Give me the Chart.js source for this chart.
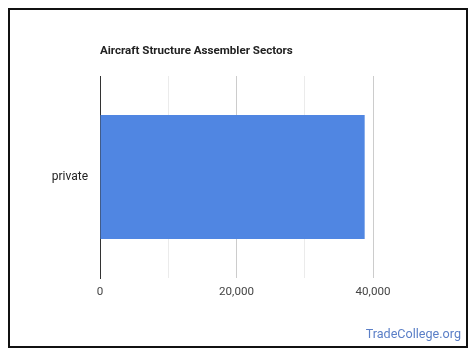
<!DOCTYPE html>
<html><head><meta charset="utf-8">
<script src="https://cdn.jsdelivr.net/npm/chart.js@4/dist/chart.umd.min.js"></script>
<style>
html,body{margin:0;padding:0;background:#fff;}
#wrap{position:absolute;left:0;top:0;width:476px;height:357px;}
#frame{position:absolute;left:8px;top:8px;width:456px;height:336px;border:2px solid #111;box-sizing:content-box;pointer-events:none;}
canvas{position:absolute;left:0;top:0;}
</style></head><body>
<div id="wrap"><canvas id="c" width="476" height="357"></canvas><div id="frame"></div></div>
<script>
const chartTitle = 'Aircraft Structure Assembler Sectors';
const categories = ['private'];
const values = [38780];
const tickLabels = {0:'0', 20000:'20,000', 40000:'40,000'};
const watermark = 'TradeCollege.org';

const overlay = {
  id:'overlay',
  afterDraw(chart){
    const ctx = chart.ctx; const a = chart.chartArea;
    ctx.save();
    ctx.font = 'bold 11.6px Roboto';
    ctx.fillStyle = '#222';
    ctx.textBaseline = 'middle';
    ctx.textAlign = 'left';
    ctx.fillText(chartTitle, a.left, 51);
    ctx.font = '12.6px Roboto';
    ctx.fillStyle = '#5b7fc7';
    ctx.textAlign = 'right';
    ctx.fillText(watermark, 461, 335);
    ctx.restore();
  }
};

new Chart(document.getElementById('c'), {
  type:'bar',
  data:{labels:categories, datasets:[{data:values, backgroundColor:'#5086e2', borderWidth:0, barPercentage:0.615, categoryPercentage:1}]},
  options:{
    indexAxis:'y', responsive:false, animation:false, devicePixelRatio:1,
    layout:{padding:{left:0, top:76, right:103, bottom:0}},
    plugins:{legend:{display:false}, title:{display:false}, tooltip:{enabled:false}},
    scales:{
      x:{min:0, max:40000,
        afterFit(s){ s.height = 79; },
        border:{display:false},
        grid:{drawTicks:false, lineWidth:1, color(ctx){ const v = ctx.tick ? ctx.tick.value : 0; if (v===0) return '#333'; return (v%20000===0) ? '#cccccc' : '#ebebeb'; }},
        ticks:{stepSize:10000, padding:7, color:'#444', font:{family:'Roboto', size:11.6}, maxRotation:0, autoSkip:false,
          callback(v){ return tickLabels[v] !== undefined ? tickLabels[v] : ''; }}
      },
      y:{
        afterFit(s){ s.width = 100; },
        border:{display:true, color:'#333', width:1},
        grid:{display:false, drawTicks:false},
        ticks:{padding:12, color:'#222', font:{family:'Roboto', size:12}}
      }
    }
  },
  plugins:[overlay]
});
</script>
</body></html>
